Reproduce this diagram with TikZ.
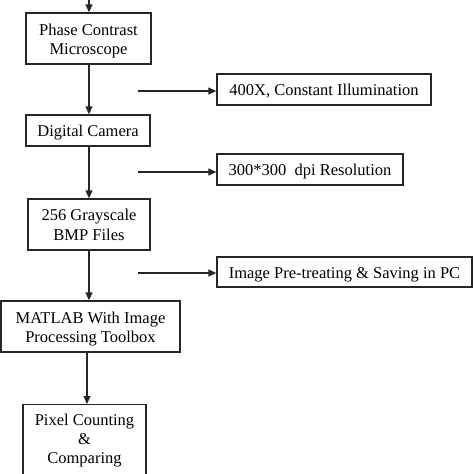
\documentclass[tikz,border=0pt]{standalone}
\usepackage{fontspec}
\setmainfont{Liberation Serif}
\usetikzlibrary{arrows.meta}
\begin{document}
\begin{tikzpicture}[x=1pt,y=-1pt,
  box/.style={draw=black!85,line width=1.3pt,inner sep=0pt,align=center,
    font=\fontsize{16.5}{19.5}\selectfont,anchor=center},
  one/.style={text height=12pt,text depth=0pt},
  two/.style={text height=32.5pt,text depth=0pt},
  txt/.style={inner sep=0pt,align=center,font=\fontsize{16.5}{19}\selectfont},
  conn/.style={draw=black!85,line width=1.2pt,-{Triangle[length=8pt,width=7pt]}}]
\clip (0,0) rectangle (474,474);
\useasboundingbox (0,0) rectangle (474,474);
% main column
\node[box,two,minimum width=125pt,minimum height=51pt] (pc) at (88.5,38.5) {Phase Contrast\\Microscope};
\node[box,one,text height=11pt,minimum width=124pt,minimum height=31pt] (dc) at (88,130.5) {Digital Camera};
\node[box,two,text height=31pt,minimum width=122pt,minimum height=51pt] (gs) at (89,224.5) {256 Grayscale\\BMP Files};
\node[box,two,minimum width=179pt,minimum height=51pt] (ml) at (90.5,326.5) {MATLAB With Image\\Processing Toolbox};
\node[box,minimum width=123pt,minimum height=100pt,anchor=north] (px) at (84.5,404) {};
\node[txt,anchor=base] (pxt) at (84.5,463) {Pixel Counting\\\&\\Comparing};
% side boxes
\node[box,one,minimum width=214pt,minimum height=31pt] (il) at (324,89.5) {400X, Constant Illumination};
\node[box,one,minimum width=186pt,minimum height=31pt] (dp) at (310,169.5) {300*300~ dpi Resolution};
\node[box,one,text height=13pt,minimum width=255pt,minimum height=30pt] (pt) at (344.5,272) {Image Pre-treating \& Saving in PC};
% free ends
\coordinate (top) at (89,-2);
\coordinate (a1) at (138,91);
\coordinate (a2) at (138,172);
\coordinate (a3) at (138,273);
% connectors
\draw[conn] (top) -- (top |- pc.north);
\draw[conn] (pc.south -| 89,0) -- (dc.north -| 89,0);
\draw[conn] (dc.south -| 89,0) -- (gs.north -| 89,0);
\draw[conn] (gs.south -| 89,0) -- (ml.north -| 89,0);
\draw[conn] (ml.south -| 87,0) -- (px.north -| 87,0);
\draw[conn] (a1) -- (a1 -| il.west);
\draw[conn] (a2) -- (a2 -| dp.west);
\draw[conn] (a3) -- (a3 -| pt.west);
\end{tikzpicture}
\end{document}
